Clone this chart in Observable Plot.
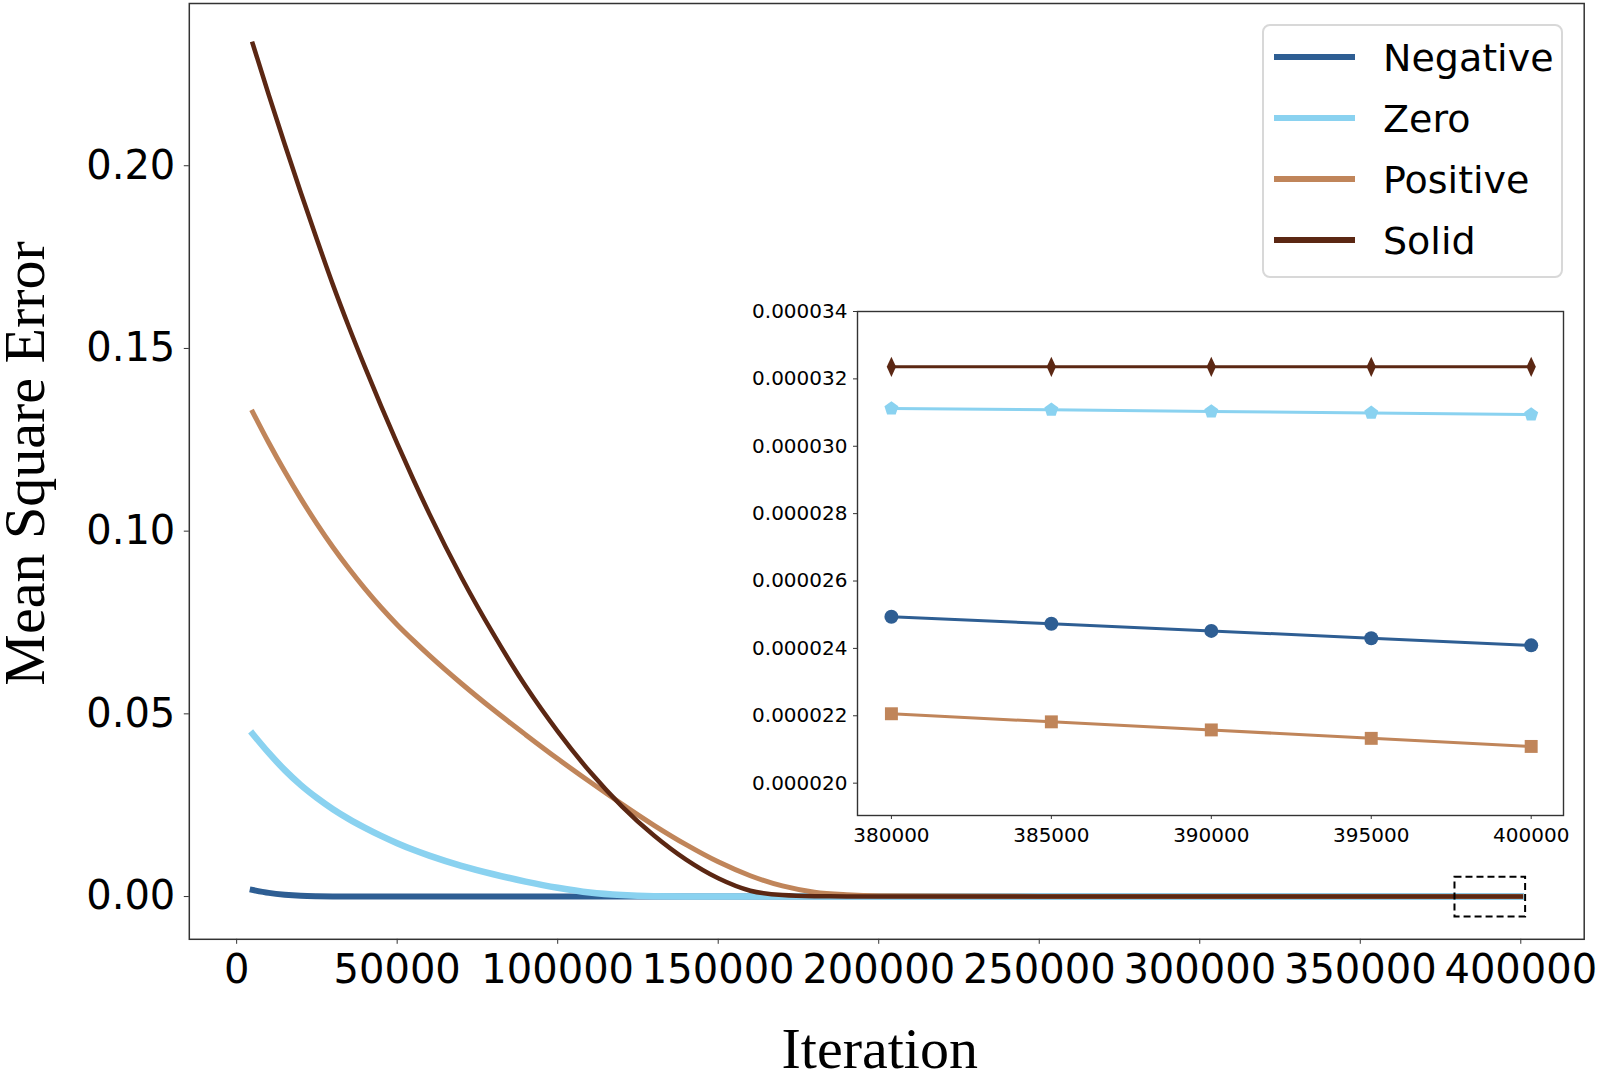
<!DOCTYPE html>
<html><head><meta charset="utf-8">
<script src="https://cdn.jsdelivr.net/npm/d3@7"></script>
<script src="https://cdn.jsdelivr.net/npm/@observablehq/plot@0.6"></script>
<style>
html,body{margin:0;padding:0;background:#fff;}
#wrap{position:relative;width:1600px;height:1072px;overflow:hidden;font-family:"DejaVu Sans";}
#main{position:absolute;left:0;top:0;}
#inset{position:absolute;left:737px;top:301px;}
#legend{position:absolute;left:1262px;top:24px;width:301px;height:254px;box-sizing:border-box;border:2px solid #d8d8d8;border-radius:8px;background:rgba(255,255,255,0.85);}
.lg-sw{position:absolute;left:10px;width:81px;height:6px;}
.lg-tx{position:absolute;left:119px;font-family:"DejaVu Sans";font-size:38px;line-height:46px;color:#000;white-space:nowrap;}
</style></head>
<body><div id="wrap"><div id="main"></div><div id="inset"></div><div id="legend"></div></div>
<script>
// ---------- data ----------
const seriesNames = ["Negative", "Zero", "Positive", "Solid"];
const seriesColors = ["#2e5e93", "#8ad2f0", "#c0855a", "#5b2713"];

const iterations = [5000, 10000, 15000, 20000, 25000, 30000, 35000, 40000, 45000, 50000,
  55000, 60000, 70000, 80000, 90000, 100000, 110000, 120000, 130000, 140000,
  150000, 160000, 170000, 180000, 190000, 200000, 250000, 300000, 350000, 400000];

const negativeMSE = [0.0018, 0.0010, 0.0005, 0.0002, 0.00008, 0.00004, 0.00003, 0.00003, 0.00003, 0.00003,
  0.00003, 0.00003, 0.00003, 0.00003, 0.00003, 0.00003, 0.00003, 0.00003, 0.00003, 0.00003,
  0.00003, 0.00003, 0.00003, 0.00003, 0.00003, 0.00003, 0.000028, 0.000026, 0.000025, 0.000024];
const zeroMSE = [0.0445, 0.0393, 0.0346, 0.0305, 0.0270, 0.0239, 0.0212, 0.0188, 0.0166, 0.0146,
  0.0128, 0.0112, 0.0084, 0.0061, 0.0041, 0.0024, 0.0011, 0.0004, 0.0001, 0.00004,
  0.00003, 0.00003, 0.00003, 0.00003, 0.00003, 0.00003, 0.000031, 0.000031, 0.000031, 0.000031];
const positiveMSE = [0.1326, 0.1242, 0.1163, 0.1089, 0.1020, 0.0956, 0.0897, 0.0842, 0.0791, 0.0744,
  0.0701, 0.0660, 0.0583, 0.0511, 0.0443, 0.0377, 0.0314, 0.0253, 0.0195, 0.0142,
  0.0095, 0.0057, 0.0029, 0.0012, 0.0005, 0.0002, 0.00004, 0.00003, 0.000022, 0.000021];
const solidMSE = [0.2334, 0.2194, 0.2058, 0.1926, 0.1798, 0.1674, 0.1558, 0.1448, 0.1342, 0.1240,
  0.1142, 0.1048, 0.0874, 0.0718, 0.0576, 0.0452, 0.0342, 0.0247, 0.0167, 0.0101,
  0.0050, 0.0016, 0.0004, 0.0001, 0.00004, 0.000033, 0.000032, 0.000032, 0.000032, 0.000032];

const insetIterations = [380000, 385000, 390000, 395000, 400000];
const negativeInset = [0.00002494, 0.00002473, 0.00002452, 0.00002430, 0.00002409];
const zeroInset = [0.00003112, 0.00003108, 0.00003103, 0.00003099, 0.00003094];
const positiveInset = [0.00002206, 0.00002182, 0.00002158, 0.00002133, 0.00002109];
const solidInset = [0.00003236, 0.00003236, 0.00003236, 0.00003236, 0.00003236];

const mainXTicks = [0, 50000, 100000, 150000, 200000, 250000, 300000, 350000, 400000];
const mainYTicks = [0, 0.05, 0.10, 0.15, 0.20];
const insetXTicks = [380000, 385000, 390000, 395000, 400000];
const insetYTicks = [0.000020, 0.000022, 0.000024, 0.000026, 0.000028, 0.000030, 0.000032, 0.000034];
const zoomBox = [{x1: 379500, x2: 401500, y1: -0.0056, y2: 0.0053}];

const xLabel = "Iteration";
const yLabel = "Mean Square Error";

// ---------- build tables ----------
const mainValues = [negativeMSE, zeroMSE, positiveMSE, solidMSE];
const insetValues = [negativeInset, zeroInset, positiveInset, solidInset];
const mainRows = seriesNames.map((s, i) => iterations.map((t, j) => ({series: s, x: t, y: mainValues[i][j]})));
const insetRows = seriesNames.map((s, i) => insetIterations.map((t, j) => ({series: s, x: t, y: insetValues[i][j]})));

const mainWidths = [6, 6.5, 5, 4.5];

// ---------- main chart ----------
const main = Plot.plot({
  width: 1600, height: 1072,
  marginLeft: 188.8, marginRight: 16.3, marginTop: 3, marginBottom: 133.2,
  style: {fontFamily: "DejaVu Sans", fontSize: "40px", background: "white", color: "#000", overflow: "visible"},
  x: {domain: [-14750, 419750]},
  y: {domain: [-0.0117, 0.2444]},
  marks: [
    Plot.axisX({ticks: mainXTicks, tickFormat: d => String(d), tickSize: 5, tickPadding: 10, label: null, stroke: "#333"}),
    Plot.axisY({ticks: mainYTicks, tickFormat: d => d.toFixed(2), tickSize: 5, tickPadding: 9, label: null, stroke: "#333"}),
    ...mainRows.map((rows, i) => Plot.line(rows, {x: "x", y: "y", stroke: seriesColors[i], strokeWidth: mainWidths[i], curve: "monotone-x", strokeLinecap: "square"})),
    Plot.rect(zoomBox, {x1: "x1", x2: "x2", y1: "y1", y2: "y2", fill: "none", stroke: "#000", strokeWidth: 2, strokeDasharray: "7,4"}),
    Plot.frame({stroke: "#333", strokeWidth: 1.5}),
    Plot.text([yLabel], {text: d => d, frameAnchor: "left", dx: -145.8, dy: -8, rotate: -90, lineAnchor: "bottom", textAnchor: "middle", fontFamily: "Liberation Serif", fontSize: 58, fill: "#000"}),
    Plot.text([xLabel], {text: d => d, frameAnchor: "bottom", dx: -7, dy: 129, lineAnchor: "bottom", textAnchor: "middle", fontFamily: "Liberation Serif", fontSize: 58, fill: "#000"})
  ]
});
document.getElementById("main").appendChild(main);

// ---------- inset ----------
const thinDiamond = {draw(c, size) { const r = Math.sqrt(size / Math.PI); c.moveTo(0, -1.35 * r); c.lineTo(0.62 * r, 0); c.lineTo(0, 1.35 * r); c.lineTo(-0.62 * r, 0); c.closePath(); }};
const pentagon = {draw(c, size) { const r = Math.sqrt(size / Math.PI) * 1.05; for (let k = 0; k < 5; k++) { const a = -Math.PI / 2 + k * 2 * Math.PI / 5; const px = r * Math.cos(a), py = r * Math.sin(a); if (k === 0) c.moveTo(px, py); else c.lineTo(px, py); } c.closePath(); }};
const insetSymbols = ["circle", pentagon, "square", thinDiamond];
const insetR = [7, 7, 7.3, 7.5];

const inset = Plot.plot({
  width: 836, height: 563,
  marginLeft: 120, marginRight: 10, marginTop: 10, marginBottom: 49,
  style: {fontFamily: "DejaVu Sans", fontSize: "20px", background: "transparent", color: "#000", overflow: "visible"},
  x: {domain: [378940, 401010]},
  y: {domain: [0.00001904, 0.000034]},
  marks: [
    Plot.frame({fill: "white", stroke: "none"}),
    Plot.axisX({ticks: insetXTicks, tickFormat: d => String(d), tickSize: 4, tickPadding: 8, label: null, stroke: "#333"}),
    Plot.axisY({ticks: insetYTicks, tickFormat: d => d.toFixed(6), tickSize: 4, tickPadding: 6, label: null, stroke: "#333"}),
    ...insetRows.map((rows, i) => Plot.line(rows, {x: "x", y: "y", stroke: seriesColors[i], strokeWidth: 3})),
    ...insetRows.map((rows, i) => Plot.dot(rows, {x: "x", y: "y", symbol: insetSymbols[i], r: insetR[i], fill: seriesColors[i], stroke: "none"})),
    Plot.frame({stroke: "#333", strokeWidth: 1.4})
  ]
});
document.getElementById("inset").appendChild(inset);

// ---------- legend ----------
const legend = document.getElementById("legend");
const legendCenters = [32.7, 94.0, 155.3, 216.0];
seriesNames.forEach((s, i) => {
  const sw = document.createElement("div");
  sw.className = "lg-sw";
  sw.style.top = (legendCenters[i] - 3 - 2) + "px";
  sw.style.background = seriesColors[i];
  legend.appendChild(sw);
  const tx = document.createElement("div");
  tx.className = "lg-tx";
  tx.style.top = (legendCenters[i] - 22 - 2) + "px";
  tx.textContent = s;
  legend.appendChild(tx);
});
</script>
</body></html>
